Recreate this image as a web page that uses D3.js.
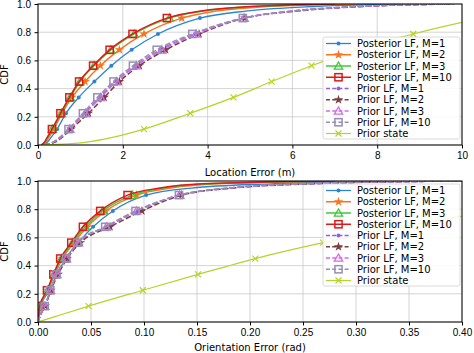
<!DOCTYPE html>
<html>
<head>
<meta charset="utf-8">
<script src="https://cdn.jsdelivr.net/npm/d3@7"></script>
<style>
    body { margin: 0; background: #fff; }
    svg { font-family: "DejaVu Sans", sans-serif; }
    .grid line { stroke: #c9c9c9; stroke-width: 0.8; }
    .axis text { font-size: 10px; fill: #000; }
    .axis path, .axis line { stroke: #000; }
</style>
</head>
<body>
<svg id="chart" width="474" height="353"></svg>
<script>
const cdfLevels = [0, 0.02, 0.05, 0.1125, 0.225, 0.3375, 0.45, 0.5625, 0.675, 0.7875, 0.9, 0.95, 0.98, 1.0];
const markerIdx = [3, 4, 5, 6, 7, 8, 9, 10];

const seriesNames = ['Posterior LF, M=1', 'Posterior LF, M=2', 'Posterior LF, M=3', 'Posterior LF, M=10',
    'Prior LF, M=1', 'Prior LF, M=2', 'Prior LF, M=3', 'Prior LF, M=10', 'Prior state'];

// location error (m) at each cdf level
const locPostM1  = [0.12, 0.22, 0.30, 0.45, 0.66, 0.96, 1.33, 1.73, 2.21, 2.83, 3.82, 4.9, 6.3, 8.5];
const locPostM2  = [0.10, 0.18, 0.25, 0.37, 0.57, 0.80, 1.11, 1.47, 1.92, 2.50, 3.39, 4.2, 5.3, 7.5];
const locPostM3  = [0.08, 0.16, 0.22, 0.34, 0.55, 0.76, 0.99, 1.32, 1.72, 2.27, 3.10, 3.9, 5.0, 7.0];
const locPostM10 = [0.08, 0.15, 0.21, 0.33, 0.53, 0.74, 0.97, 1.30, 1.69, 2.23, 3.04, 3.85, 4.9, 7.0];
const locPriorM1  = [0.15, 0.36, 0.50, 0.73, 1.10, 1.45, 1.83, 2.30, 2.88, 3.70, 4.85, 6.0, 7.4, 9.8];
const locPriorM2  = [0.15, 0.40, 0.55, 0.78, 1.19, 1.56, 1.92, 2.39, 3.01, 3.80, 4.88, 6.1, 7.5, 9.8];
const locPriorM3  = [0.15, 0.37, 0.52, 0.75, 1.12, 1.48, 1.85, 2.32, 2.92, 3.73, 4.86, 6.0, 7.4, 9.8];
const locPriorM10 = [0.15, 0.35, 0.50, 0.72, 1.06, 1.40, 1.78, 2.24, 2.80, 3.64, 4.83, 6.0, 7.3, 9.8];
const locPriorState = [0.10, 1.15, 1.70, 2.50, 3.59, 4.61, 5.51, 6.45, 7.50, 8.85, 10.5, 11.5, 13.0, 16.0];

// orientation error (rad) at each cdf level
const oriPostM1  = [0, 0.0005, 0.0012, 0.0025, 0.0110, 0.0180, 0.0260, 0.0380, 0.0520, 0.0706, 0.102, 0.145, 0.22, 0.33];
const oriPostM2  = [0, 0.0004, 0.0010, 0.0020, 0.0095, 0.0158, 0.0230, 0.0340, 0.0465, 0.0640, 0.093, 0.125, 0.17, 0.30];
const oriPostM3  = [0, 0.0003, 0.0008, 0.0018, 0.0090, 0.0152, 0.0220, 0.0325, 0.0445, 0.0610, 0.089, 0.118, 0.16, 0.29];
const oriPostM10 = [0, 0.0003, 0.0007, 0.0016, 0.0085, 0.0145, 0.0210, 0.0314, 0.0424, 0.0587, 0.0845, 0.115, 0.155, 0.28];
const oriPriorM1  = [0, 0.0009, 0.0022, 0.0065, 0.0118, 0.0180, 0.0270, 0.0380, 0.0650, 0.0940, 0.134, 0.18, 0.25, 0.40];
const oriPriorM2  = [0, 0.0010, 0.0025, 0.0068, 0.0122, 0.0190, 0.0275, 0.0400, 0.0680, 0.0980, 0.1356, 0.185, 0.26, 0.40];
const oriPriorM3  = [0, 0.0009, 0.0022, 0.0064, 0.0117, 0.0178, 0.0268, 0.0378, 0.0645, 0.0930, 0.1335, 0.18, 0.25, 0.40];
const oriPriorM10 = [0, 0.0008, 0.0020, 0.0063, 0.0116, 0.0173, 0.0267, 0.0370, 0.0634, 0.0920, 0.133, 0.18, 0.25, 0.40];
const oriPriorState = [0, 0.0085, 0.021, 0.0477, 0.0989, 0.151, 0.205, 0.269, 0.344, 0.430, 0.55, 0.65, 0.80, 1.0];

const yTicks = [0, 0.2, 0.4, 0.6, 0.8, 1.0];
const locTicks = [0, 2, 4, 6, 8, 10];
const oriTicks = [0, 0.05, 0.1, 0.15, 0.2, 0.25, 0.3, 0.35, 0.4];

// look of each series, in legend order
const styles = [
    { color: '#2a84d6', dash: null, marker: 'dot', width: 1.3 },
    { color: '#fa7420', dash: null, marker: 'star', width: 1.5 },
    { color: '#3ec93a', dash: null, marker: 'tri', width: 1.5 },
    { color: '#dd1a1a', dash: null, marker: 'square', width: 1.5 },
    { color: '#8e5fe6', dash: '5.5,2.4', marker: 'dot', width: 1.5 },
    { color: '#7a3e3e', dash: '5.5,2.4', marker: 'star', width: 1.5 },
    { color: '#d46ae8', dash: '5.5,2.4', marker: 'tri', width: 1.5 },
    { color: '#9590b2', dash: '5.5,2.4', marker: 'square', width: 1.5 },
    { color: '#b8d22c', dash: null, marker: 'x', width: 1.2 }
];

const svg = d3.select('#chart');

function drawMarker(g, type, cx, cy, color) {
    if (type === 'dot') {
        g.append('circle').attr('cx', cx).attr('cy', cy).attr('r', 2).attr('fill', color);
    } else if (type === 'star') {
        g.append('path').attr('d', d3.symbol(d3.symbolStar, 28)())
            .attr('transform', `translate(${cx},${cy})`).attr('fill', color);
    } else if (type === 'tri') {
        g.append('path').attr('d', d3.symbol(d3.symbolTriangle, 30)())
            .attr('transform', `translate(${cx},${cy + 0.8})`)
            .attr('fill', 'none').attr('stroke', color).attr('stroke-width', 1.3);
    } else if (type === 'square') {
        g.append('rect').attr('x', cx - 3.6).attr('y', cy - 3.6).attr('width', 7.2).attr('height', 7.2)
            .attr('fill', 'none').attr('stroke', color).attr('stroke-width', 1.5);
    } else if (type === 'x') {
        g.append('path').attr('d', `M${cx - 3},${cy - 3}L${cx + 3},${cy + 3}M${cx - 3},${cy + 3}L${cx + 3},${cy - 3}`)
            .attr('stroke', color).attr('stroke-width', 1.2);
    }
}

function drawPanel(cfg) {
    const left = 38, right = 462;
    const x = d3.scaleLinear().domain(cfg.xDomain).range([left, right]);
    const y = d3.scaleLinear().domain([0, 1]).range([cfg.bottom, cfg.top]);
    const clipId = 'clip' + cfg.id;

    svg.append('clipPath').attr('id', clipId).append('rect')
        .attr('x', left).attr('y', cfg.top).attr('width', right - left).attr('height', cfg.bottom - cfg.top);

    // grid
    const grid = svg.append('g').classed('grid', true);
    grid.selectAll('.gx').data(cfg.xTicks).join('line')
        .attr('x1', d => x(d)).attr('x2', d => x(d)).attr('y1', cfg.top).attr('y2', cfg.bottom);
    grid.selectAll('.gy').data(yTicks).join('line')
        .attr('x1', left).attr('x2', right).attr('y1', d => y(d)).attr('y2', d => y(d));

    // curves
    const plot = svg.append('g').attr('clip-path', `url(#${clipId})`);
    const line = d3.line().x(d => x(d[0])).y(d => y(d[1])).curve(d3.curveMonotoneX);
    cfg.series.forEach((vals, i) => {
        const st = styles[i];
        const pts = vals.map((v, k) => [v, cdfLevels[k]]);
        plot.append('path').datum(pts)
            .attr('d', line)
            .attr('fill', 'none')
            .attr('stroke', st.color)
            .attr('stroke-width', st.width)
            .attr('stroke-dasharray', st.dash);
        markerIdx.forEach(k => drawMarker(plot, st.marker, x(pts[k][0]), y(pts[k][1]), st.color));
    });

    // axes
    svg.append('g').classed('axis', true)
        .attr('transform', `translate(0,${cfg.bottom})`)
        .call(d3.axisBottom(x).tickValues(cfg.xTicks).tickFormat(cfg.xFormat).tickSize(3.5).tickPadding(3.5))
        .call(g => g.select('.domain').remove());
    svg.append('g').classed('axis', true)
        .attr('transform', `translate(${left},0)`)
        .call(d3.axisLeft(y).tickValues(yTicks).tickFormat(d3.format('.1f')).tickSize(3.5).tickPadding(3.5))
        .call(g => g.select('.domain').remove());
    svg.selectAll('.axis text').attr('font-family', null);

    // frame
    svg.append('rect').attr('x', left).attr('y', cfg.top)
        .attr('width', right - left).attr('height', cfg.bottom - cfg.top)
        .attr('fill', 'none').attr('stroke', '#000').attr('stroke-width', 1);

    svg.append('text').attr('x', (left + right) / 2).attr('y', cfg.bottom + cfg.labelGap)
        .attr('text-anchor', 'middle').attr('font-size', 10).text(cfg.xLabel);
    svg.append('text')
        .attr('transform', `translate(8,${(cfg.top + cfg.bottom) / 2})rotate(-90)`)
        .attr('text-anchor', 'middle').attr('font-size', 10).text('CDF');

    // legend
    const lg = svg.append('g').attr('transform', `translate(323,${cfg.legendTop})`);
    lg.append('rect').attr('width', 137).attr('height', 102).attr('rx', 2)
        .attr('fill', '#fff').attr('fill-opacity', 0.85).attr('stroke', '#d0d0d0').attr('stroke-width', 0.8);
    seriesNames.forEach((name, i) => {
        const st = styles[i];
        const ry = 6.5 + i * 11.25;
        lg.append('line').attr('x1', 3).attr('x2', 28).attr('y1', ry).attr('y2', ry)
            .attr('stroke', st.color).attr('stroke-width', st.width)
            .attr('stroke-dasharray', st.dash ? '4,2.2' : null);
        drawMarker(lg, st.marker, 15.5, ry, st.color);
        lg.append('text').attr('x', 34).attr('y', ry + 3.6).attr('font-size', 10).text(name);
    });
}

drawPanel({
    id: 'loc', top: 4, bottom: 145, labelGap: 30.5,
    xDomain: [0, 10], xTicks: locTicks, xFormat: d3.format('d'),
    xLabel: 'Location Error (m)', legendTop: 37,
    series: [locPostM1, locPostM2, locPostM3, locPostM10, locPriorM1, locPriorM2, locPriorM3, locPriorM10, locPriorState]
});

drawPanel({
    id: 'ori', top: 181, bottom: 322, labelGap: 28.5,
    xDomain: [0, 0.4], xTicks: oriTicks, xFormat: d3.format('.2f'),
    xLabel: 'Orientation Error (rad)', legendTop: 184,
    series: [oriPostM1, oriPostM2, oriPostM3, oriPostM10, oriPriorM1, oriPriorM2, oriPriorM3, oriPriorM10, oriPriorState]
});
</script>
</body>
</html>
